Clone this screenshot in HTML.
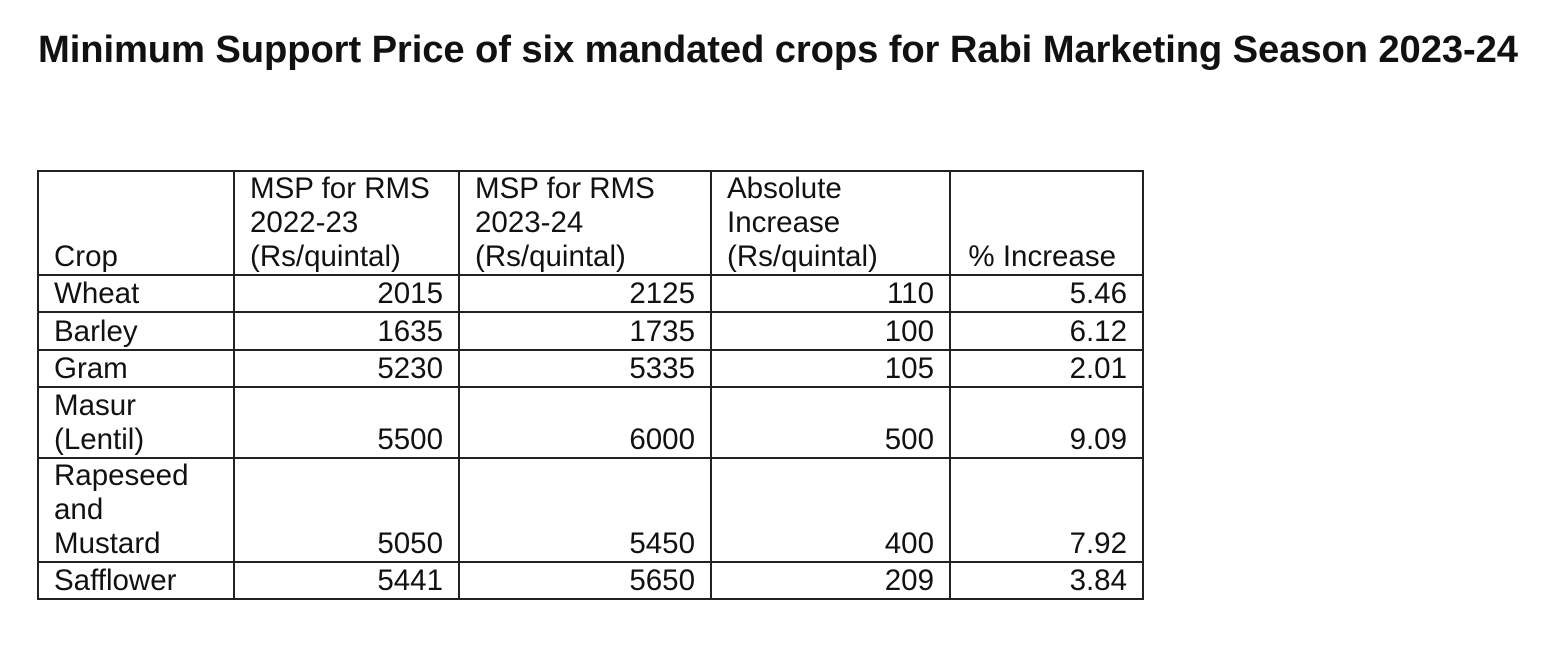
<!DOCTYPE html>
<html><head><meta charset="utf-8"><style>
html,body{margin:0;padding:0;background:#fff;width:1548px;height:652px;overflow:hidden}
body{font-family:"Liberation Sans",Arial,sans-serif;color:#111;position:relative}
h1{position:absolute;left:38px;top:28px;margin:0;font-size:38.2px;font-weight:bold;letter-spacing:-0.1px;white-space:nowrap}
table{position:absolute;left:37px;top:170px;border-collapse:collapse;font-size:29.5px;line-height:34px}
td{border:2px solid #222;vertical-align:bottom;padding:0 10px 0 15px;padding-bottom:0;white-space:nowrap}
td.n{text-align:right;padding-right:15px}
td.p{padding-right:26px}
</style></head><body>
<h1>Minimum Support Price of six mandated crops for Rabi Marketing Season 2023-24</h1>
<table>
<colgroup><col style="width:196px"><col style="width:225px"><col style="width:252px"><col style="width:239px"><col style="width:193px"></colgroup>
<tr style="height:104px">
<td>Crop</td>
<td>MSP for RMS<br>2022-23<br>(Rs/quintal)</td>
<td>MSP for RMS<br>2023-24<br>(Rs/quintal)</td>
<td>Absolute<br>Increase<br>(Rs/quintal)</td>
<td class="n p">% Increase</td></tr>
<tr style="height:37px"><td>Wheat</td><td class="n">2015</td><td class="n">2125</td><td class="n">110</td><td class="n">5.46</td></tr>
<tr style="height:38px"><td>Barley</td><td class="n">1635</td><td class="n">1735</td><td class="n">100</td><td class="n">6.12</td></tr>
<tr style="height:37px"><td>Gram</td><td class="n">5230</td><td class="n">5335</td><td class="n">105</td><td class="n">2.01</td></tr>
<tr style="height:71px"><td>Masur<br>(Lentil)</td><td class="n">5500</td><td class="n">6000</td><td class="n">500</td><td class="n">9.09</td></tr>
<tr style="height:102px"><td>Rapeseed<br>and<br>Mustard</td><td class="n">5050</td><td class="n">5450</td><td class="n">400</td><td class="n">7.92</td></tr>
<tr style="height:37px"><td>Safflower</td><td class="n">5441</td><td class="n">5650</td><td class="n">209</td><td class="n">3.84</td></tr>
</table>
</body></html>
